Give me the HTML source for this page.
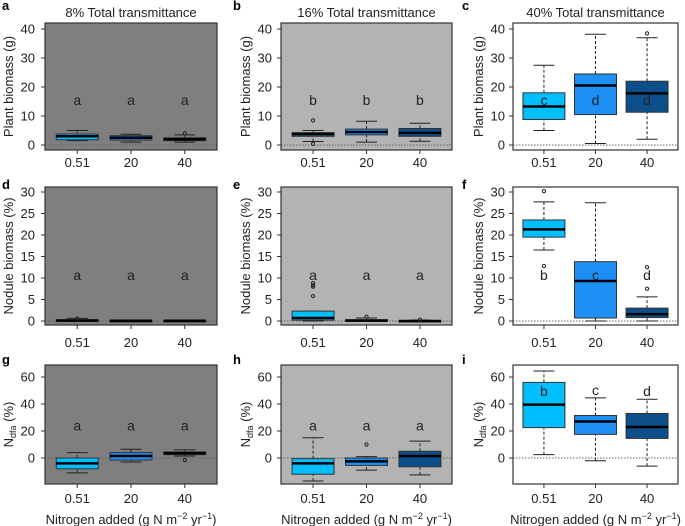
<!DOCTYPE html>
<html><head><meta charset="utf-8">
<style>
html,body{margin:0;padding:0;background:#fff;}
svg{display:block;font-family:"Liberation Sans",sans-serif;}
</style></head>
<body>
<svg id="fig" width="685" height="526" viewBox="0 0 685 526" xmlns="http://www.w3.org/2000/svg"></svg>
<script>
// ---- data ----
const categories = ["0.51","20","40"];
const panelLetters = ["a","b","c","d","e","f","g","h","i"];
const columnTitles = ["8% Total transmittance","16% Total transmittance","40% Total transmittance"];
const rowYTitles = ["Plant biomass (g)","Nodule biomass (%)","Ndfa"];
const row1Ticks = [0,10,20,30,40];
const row2Ticks = [0,5,10,15,20,25,30];
const row3Ticks = [0,20,40,60];
// box stats per panel: [lowWhisker, q1, median, q3, highWhisker]
const statsA = [[1.5,1.8,3,3.8,5],[1,1.7,2.5,3.2,3.7],[1,1.5,2,2.5,3.5]];
const statsB = [[1.2,3,3.7,4.3,5],[1,3.5,4.5,5.5,8.2],[1.3,3,4.2,5.7,7.5]];
const statsC = [[5,8.8,13.3,18,27.5],[0.5,10.5,20.5,24.5,38.2],[2,11.3,17.8,22,37]];
const statsD = [[0,0,0.1,0.3,0.6],[0,0,0.05,0.1,0.2],[0,0,0.05,0.1,0.2]];
const statsE = [[0,0.2,0.7,2.3,2.3],[0,0,0.1,0.3,0.7],[0,0,0,0.1,0.2]];
const statsF = [[16.5,19.5,21.3,23.5,27.7],[0,0.7,9.3,13.8,27.5],[0,0.8,1.6,3,5.6]];
const statsG = [[-11,-8,-4,0,4],[-3,-1.5,1.5,4,6.5],[1.5,2.5,3.5,4.5,6]];
const statsH = [[-17,-12,-4,-0.5,15],[-9,-5.5,-2.5,0,1],[-12.5,-6.5,1.5,5,12.5]];
const statsI = [[2.5,22.5,39.5,56,64.5],[-2,17.5,27,31.5,44.5],[-6,14.5,23,33,43.5]];
// outliers per panel per category
const outA = [[],[],[4]];
const outB = [[8.5,0.4],[],[]];
const outC = [[],[],[38.5]];
const outD = [[0.6],[],[]];
const outE = [[5.8,8,8.3,8.8],[1],[0.3]];
const outF = [[30.2,12.8],[],[7.5,12.5]];
const outG = [[],[],[-1.5]];
const outH = [[],[10],[]];
const outI = [[],[],[]];
// significance letters and their heights
const lettersA = ["a","a","a"], lettersB = ["b","b","b"], lettersC = ["c","d","d"];
const lettersD = ["a","a","a"], lettersE = ["a","a","a"], lettersF = ["b","c","d"];
const lettersG = ["a","a","a"], lettersH = ["a","a","a"], lettersI = ["b","c","d"];
const letterY1 = [15.5,15.5,15.5], letterY1c = [15.5,15.5,15.5];
const letterY2 = [10.7,10.7,10.7], letterY2f = [10.7,10.7,10.7];
const letterY3 = [24,24,24], letterY3i = [49.5,50.5,49.5];

// ---- layout ----
const NS="http://www.w3.org/2000/svg";
const svg=document.getElementById('fig');
function mk(tag,attrs,parent){const e=document.createElementNS(NS,tag);for(const k in attrs)e.setAttribute(k,attrs[k]);(parent||svg).appendChild(e);return e;}
const colX=[[45,217],[281,452],[513,678]];
const rowY=[[23,150],[187,325],[365,484]];
const rowDom=[[-1.72,42.07],[-0.93,31.16],[-19.26,68.9]];
const rowTicks=[row1Ticks,row2Ticks,row3Ticks];
const bgs=["#7f7f7f","#b3b3b3","#ffffff"];
const fills=["#00bfff","#1e8ff5","#0d4f8b"];
const panels=[
 [statsA,outA,lettersA,letterY1],[statsB,outB,lettersB,letterY1],[statsC,outC,lettersC,letterY1c],
 [statsD,outD,lettersD,letterY2],[statsE,outE,lettersE,letterY2],[statsF,outF,lettersF,letterY2f],
 [statsG,outG,lettersG,letterY3],[statsH,outH,lettersH,letterY3],[statsI,outI,lettersI,letterY3i]];
const yLabelX=[8,245,478], tickLabelX=[35,272,505];
const letterPos=[[2,233,462],[2,233,462],[2,233,462]];
const letterPosY=[10,189,364];
const xTickY=[167,347,503];

for(let r=0;r<3;r++)for(let c=0;c<3;c++){
  const idx=r*3+c; const [stats,outs,lets,ly]=panels[idx];
  const [x0,x1]=colX[c],[y0,y1]=rowY[r],[d0,d1]=rowDom[r];
  const yS=v=>y1-(v-d0)/(d1-d0)*(y1-y0);
  const xS=i=>x0+((i+1)-0.4)/3.2*(x1-x0);
  const g=mk('g',{});
  
  
  const bg=mk('rect',{x:x0,y:y0,width:x1-x0,height:y1-y0,fill:bgs[c],stroke:'none'},g);
  
  
  const zl=mk('line',{x1:x0,x2:x1,y1:yS(0),y2:yS(0),stroke:'#666','stroke-dasharray':'1.5,1.5','stroke-width':1},g);
  
  
  const bw=42, half=bw/2, cap=bw/4;
  const dark='#222';
  stats.forEach((s,i)=>{
    const cx=xS(i);
    const bx=mk('g',{},g);
    
    
    mk('line',{x1:cx,x2:cx,y1:yS(s[0]),y2:yS(s[1]),stroke:dark,'stroke-dasharray':'3,2'},bx);
    mk('line',{x1:cx,x2:cx,y1:yS(s[3]),y2:yS(s[4]),stroke:dark,'stroke-dasharray':'3,2'},bx);
    mk('line',{x1:cx-cap,x2:cx+cap,y1:yS(s[0]),y2:yS(s[0]),stroke:dark},bx);
    mk('line',{x1:cx-cap,x2:cx+cap,y1:yS(s[4]),y2:yS(s[4]),stroke:dark},bx);
    const h=Math.max(yS(s[1])-yS(s[3]),1.5);
    mk('rect',{x:cx-half,y:yS(s[3]),width:bw,height:h,fill:fills[i],stroke:'#333','stroke-width':1},bx);
    mk('line',{x1:cx-half,x2:cx+half,y1:yS(s[2]),y2:yS(s[2]),stroke:'#000','stroke-width':2.5},bx);
    outs[i].forEach(o=>{mk('circle',{cx:cx,cy:yS(o),r:1.6,fill:'none',stroke:'#222','stroke-width':1},bx);});
    const t=mk('text',{x:cx,y:yS(ly[i])+5,'font-size':14,'text-anchor':'middle',fill:'#222'},bx);
    t.textContent=lets[i];
    
    
  });
  const fr=mk('rect',{x:x0,y:y0,width:x1-x0,height:y1-y0,fill:'none',stroke:'#333','stroke-width':1.2},g);
  
  
  rowTicks[r].forEach(v=>{
    mk('line',{x1:x0-4,x2:x0,y1:yS(v),y2:yS(v),stroke:'#333'},g);
    const t=mk('text',{x:tickLabelX[c],y:yS(v)+4.5,'font-size':13,'text-anchor':'end',fill:'#222'},g);
    t.textContent=v;
    
    
  });
  categories.forEach((cat,i)=>{
    mk('line',{x1:xS(i),x2:xS(i),y1:y1,y2:y1+4,stroke:'#333'},g);
    const t=mk('text',{x:xS(i),y:xTickY[r],'font-size':13,'text-anchor':'middle',fill:'#222'},g);
    t.textContent=cat;
    
    
  });
  const yc=(y0+y1)/2;
  const yt=mk('text',{x:yLabelX[c]+5,y:yc,'font-size':13,'text-anchor':'middle',fill:'#222',transform:`rotate(-90 ${yLabelX[c]+5} ${yc})`},g);
  
  
  if(r<2){yt.textContent=rowYTitles[r];}
  else{
    const a=mk('tspan',{},yt);a.textContent='N';
    const b=mk('tspan',{'font-size':9,dy:3},yt);b.textContent='dfa';
    const d=mk('tspan',{dy:-3},yt);d.textContent=' (%)';
  }
  const pl=mk('text',{x:letterPos[r][c],y:letterPosY[r],'font-size':13,'font-weight':'bold',fill:'#000'},g);
  pl.textContent=panelLetters[idx];
  
  
  if(r==0){
    const tt=mk('text',{x:(x0+x1)/2,y:17,'font-size':13,'text-anchor':'middle',fill:'#222'},g);
    tt.textContent=columnTitles[c];
    
    
  }
  if(r==2){
    const xt=mk('text',{x:(x0+x1)/2,y:524,'font-size':13,'text-anchor':'middle',fill:'#222'},g);
    
    
    const p1=mk('tspan',{},xt);p1.textContent='Nitrogen added (g N m';
    const p2=mk('tspan',{'font-size':9,dy:-5},xt);p2.textContent='\u22122';
    const p3=mk('tspan',{dy:5},xt);p3.textContent=' yr';
    const p4=mk('tspan',{'font-size':9,dy:-5},xt);p4.textContent='\u22121';
    const p5=mk('tspan',{dy:5},xt);p5.textContent=')';
  }
}
</script>
</body></html>
